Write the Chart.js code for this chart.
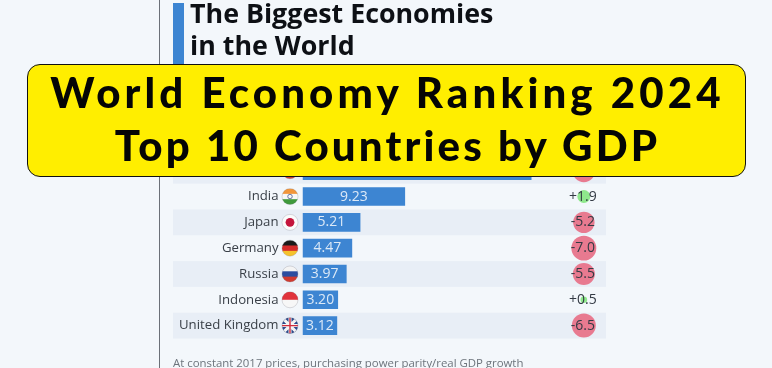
<!DOCTYPE html>
<html><head><meta charset="utf-8">
<script src="https://cdn.jsdelivr.net/npm/chart.js@4"></script>
<style>
html,body{margin:0;padding:0;background:#f3f7fb;overflow:hidden}
#wrap{position:relative;width:772px;height:368px;overflow:hidden;font-family:"Open Sans",sans-serif}
canvas{position:absolute;left:0;top:0}
#rule{position:absolute;left:159px;top:0;width:1px;height:368px;background:#6b7078}
#accent{position:absolute;left:173px;top:3px;width:11px;height:70px;background:#3d85d2}
#title{position:absolute;left:190px;top:-3px;font:700 26.8px/31.5px "Open Sans",sans-serif;color:#0d1015;white-space:nowrap}
#note{position:absolute;left:173px;top:355px;font:11.4px "Open Sans",sans-serif;color:#6d747c;white-space:nowrap}
#banner{position:absolute;left:27px;top:64px;width:717px;height:111px;background:#ffee00;border:1.5px solid #111;border-radius:13px;text-align:center;font:900 42px/53px Lato,sans-serif;color:#050505;box-sizing:content-box}
#banner div{white-space:nowrap;position:relative;left:1px}
#l1{letter-spacing:4.1px;margin-top:1px}
#l2{letter-spacing:3.15px}
</style></head>
<body>
<div id="wrap">
<canvas id="c" width="772" height="368"></canvas>
<div id="rule"></div><div id="accent"></div>
<div id="title">The Biggest Economies<br>in the World</div>
<div id="note">At constant 2017 prices, purchasing power parity/real GDP growth</div>
<div id="banner"><div id="l1">World Economy Ranking 2024</div><div id="l2">Top 10 Countries by GDP</div></div>
</div>
<script>
const categories = ["China","United States","India","Japan","Germany","Russia","Indonesia","United Kingdom"];
const gdpTrillions = [24.16,20.6,9.23,5.21,4.47,3.97,3.20,3.12];
const gdpLabels = ["24.16","20.60","9.23","5.21","4.47","3.97","3.20","3.12"];
const growthValues = [1.9,-5.9,1.9,-5.2,-7.0,-5.5,0.5,-6.5];
const growthLabels = ["+1.9","-5.9","+1.9","-5.2","-7.0","-5.5","+0.5","-6.5"];
const flagColours = {
  "India":["#f2963a","#f7f7f7","#3f9a3c"],
  "Germany":["#1a1a1a","#d42a2a","#f5c22c"],
  "Russia":["#f4f4f4","#2c4da0","#d13a30"],
  "Indonesia":["#e0333c","#f7f7f7"],
  "China":["#d8352a"],
  "United States":["#f4f4f4","#c9403c"],
  "Japan":["#fbfbfb"],
  "United Kingdom":["#2c4a8c"]
};

function drawFlag(ctx,name,x,y,r){
  ctx.save();
  ctx.beginPath();ctx.arc(x,y,r,0,Math.PI*2);ctx.clip();
  const cols=flagColours[name];
  cols.forEach((c,i)=>{ctx.fillStyle=c;ctx.fillRect(x-r,y-r+i*2*r/cols.length,2*r,2*r/cols.length+.5);});
  if(name==="Japan"){ctx.fillStyle="#c4153c";ctx.beginPath();ctx.arc(x,y,r*.55,0,Math.PI*2);ctx.fill();}
  if(name==="India"){ctx.strokeStyle="#4a5a90";ctx.lineWidth=.8;ctx.beginPath();ctx.arc(x,y,r*.28,0,Math.PI*2);ctx.stroke();}
  if(name==="United Kingdom"){
    ctx.strokeStyle="#f4f4f4";ctx.lineWidth=3;
    ctx.beginPath();ctx.moveTo(x-r,y-r);ctx.lineTo(x+r,y+r);ctx.moveTo(x+r,y-r);ctx.lineTo(x-r,y+r);
    ctx.moveTo(x-r,y);ctx.lineTo(x+r,y);ctx.moveTo(x,y-r);ctx.lineTo(x,y+r);ctx.stroke();
    ctx.strokeStyle="#cf2b3c";ctx.lineWidth=1.4;
    ctx.beginPath();ctx.moveTo(x-r,y);ctx.lineTo(x+r,y);ctx.moveTo(x,y-r);ctx.lineTo(x,y+r);ctx.stroke();
  }
  ctx.restore();
  ctx.strokeStyle="rgba(120,120,130,.25)";ctx.lineWidth=1;
  ctx.beginPath();ctx.arc(x,y,r,0,Math.PI*2);ctx.stroke();
}

const tablePlugin={
  id:"table",
  beforeDraw(chart){
    const {ctx,scales:{y},chartArea:a}=chart;
    const h=y.getPixelForValue(1)-y.getPixelForValue(0);
    ctx.save();
    categories.forEach((c,i)=>{
      const py=y.getPixelForValue(i);
      if(i%2===1){ctx.fillStyle="#e8eef6";ctx.fillRect(173,py-h/2,a.right-173,h);}
    });
    ctx.restore();
  },
  afterDatasetsDraw(chart){
    const {ctx,scales:{y,x,g}}=chart;
    ctx.save();
    categories.forEach((c,i)=>drawFlag(ctx,c,290,y.getPixelForValue(i),8));
    ctx.textBaseline="middle";ctx.textAlign="center";
    ctx.font='14px "Open Sans",sans-serif';
    categories.forEach((c,i)=>{
      const py=y.getPixelForValue(i);
      ctx.fillStyle="#dce9f7";
      ctx.fillText(gdpLabels[i],(x.getPixelForValue(0)+x.getPixelForValue(gdpTrillions[i]))/2,py);
      ctx.fillStyle="#333a44";
      ctx.fillText(growthLabels[i],g.getPixelForValue(0)-1,py);
    });
    ctx.restore();
  }
};

new Chart(document.getElementById("c"),{
  data:{
    labels:categories,
    datasets:[
      {type:"bar",data:gdpTrillions,xAxisID:"x",yAxisID:"y",backgroundColor:"#3d85d2",barPercentage:.72,categoryPercentage:1,order:2},
      {type:"bubble",data:growthValues.map((v,i)=>({x:0,y:categories[i],v})),xAxisID:"g",yAxisID:"y",
       backgroundColor:c=>growthValues[c.dataIndex]<0?"#e87a90":"#8fe88c",borderWidth:0,
       radius:c=>4.7*Math.sqrt(Math.abs(growthValues[c.dataIndex])),hoverRadius:0,order:1}
    ]
  },
  options:{
    indexAxis:"y",responsive:false,animation:false,
    layout:{padding:{top:132,bottom:29.5,right:166,left:0}},
    plugins:{legend:{display:false},tooltip:{enabled:false}},
    scales:{
      x:{type:"linear",min:0,max:27.3,display:false},
      g:{type:"linear",min:-0.927,max:0.073,display:false},
      y:{type:"category",position:"left",
         grid:{display:false},border:{display:false},
         afterFit:s=>{s.width=302.5;},
         ticks:{padding:16,color:"#3a4048",font:{family:"Open Sans",size:13.2},autoSkip:false}}
    }
  },
  plugins:[tablePlugin]
});
</script>
</body></html>
